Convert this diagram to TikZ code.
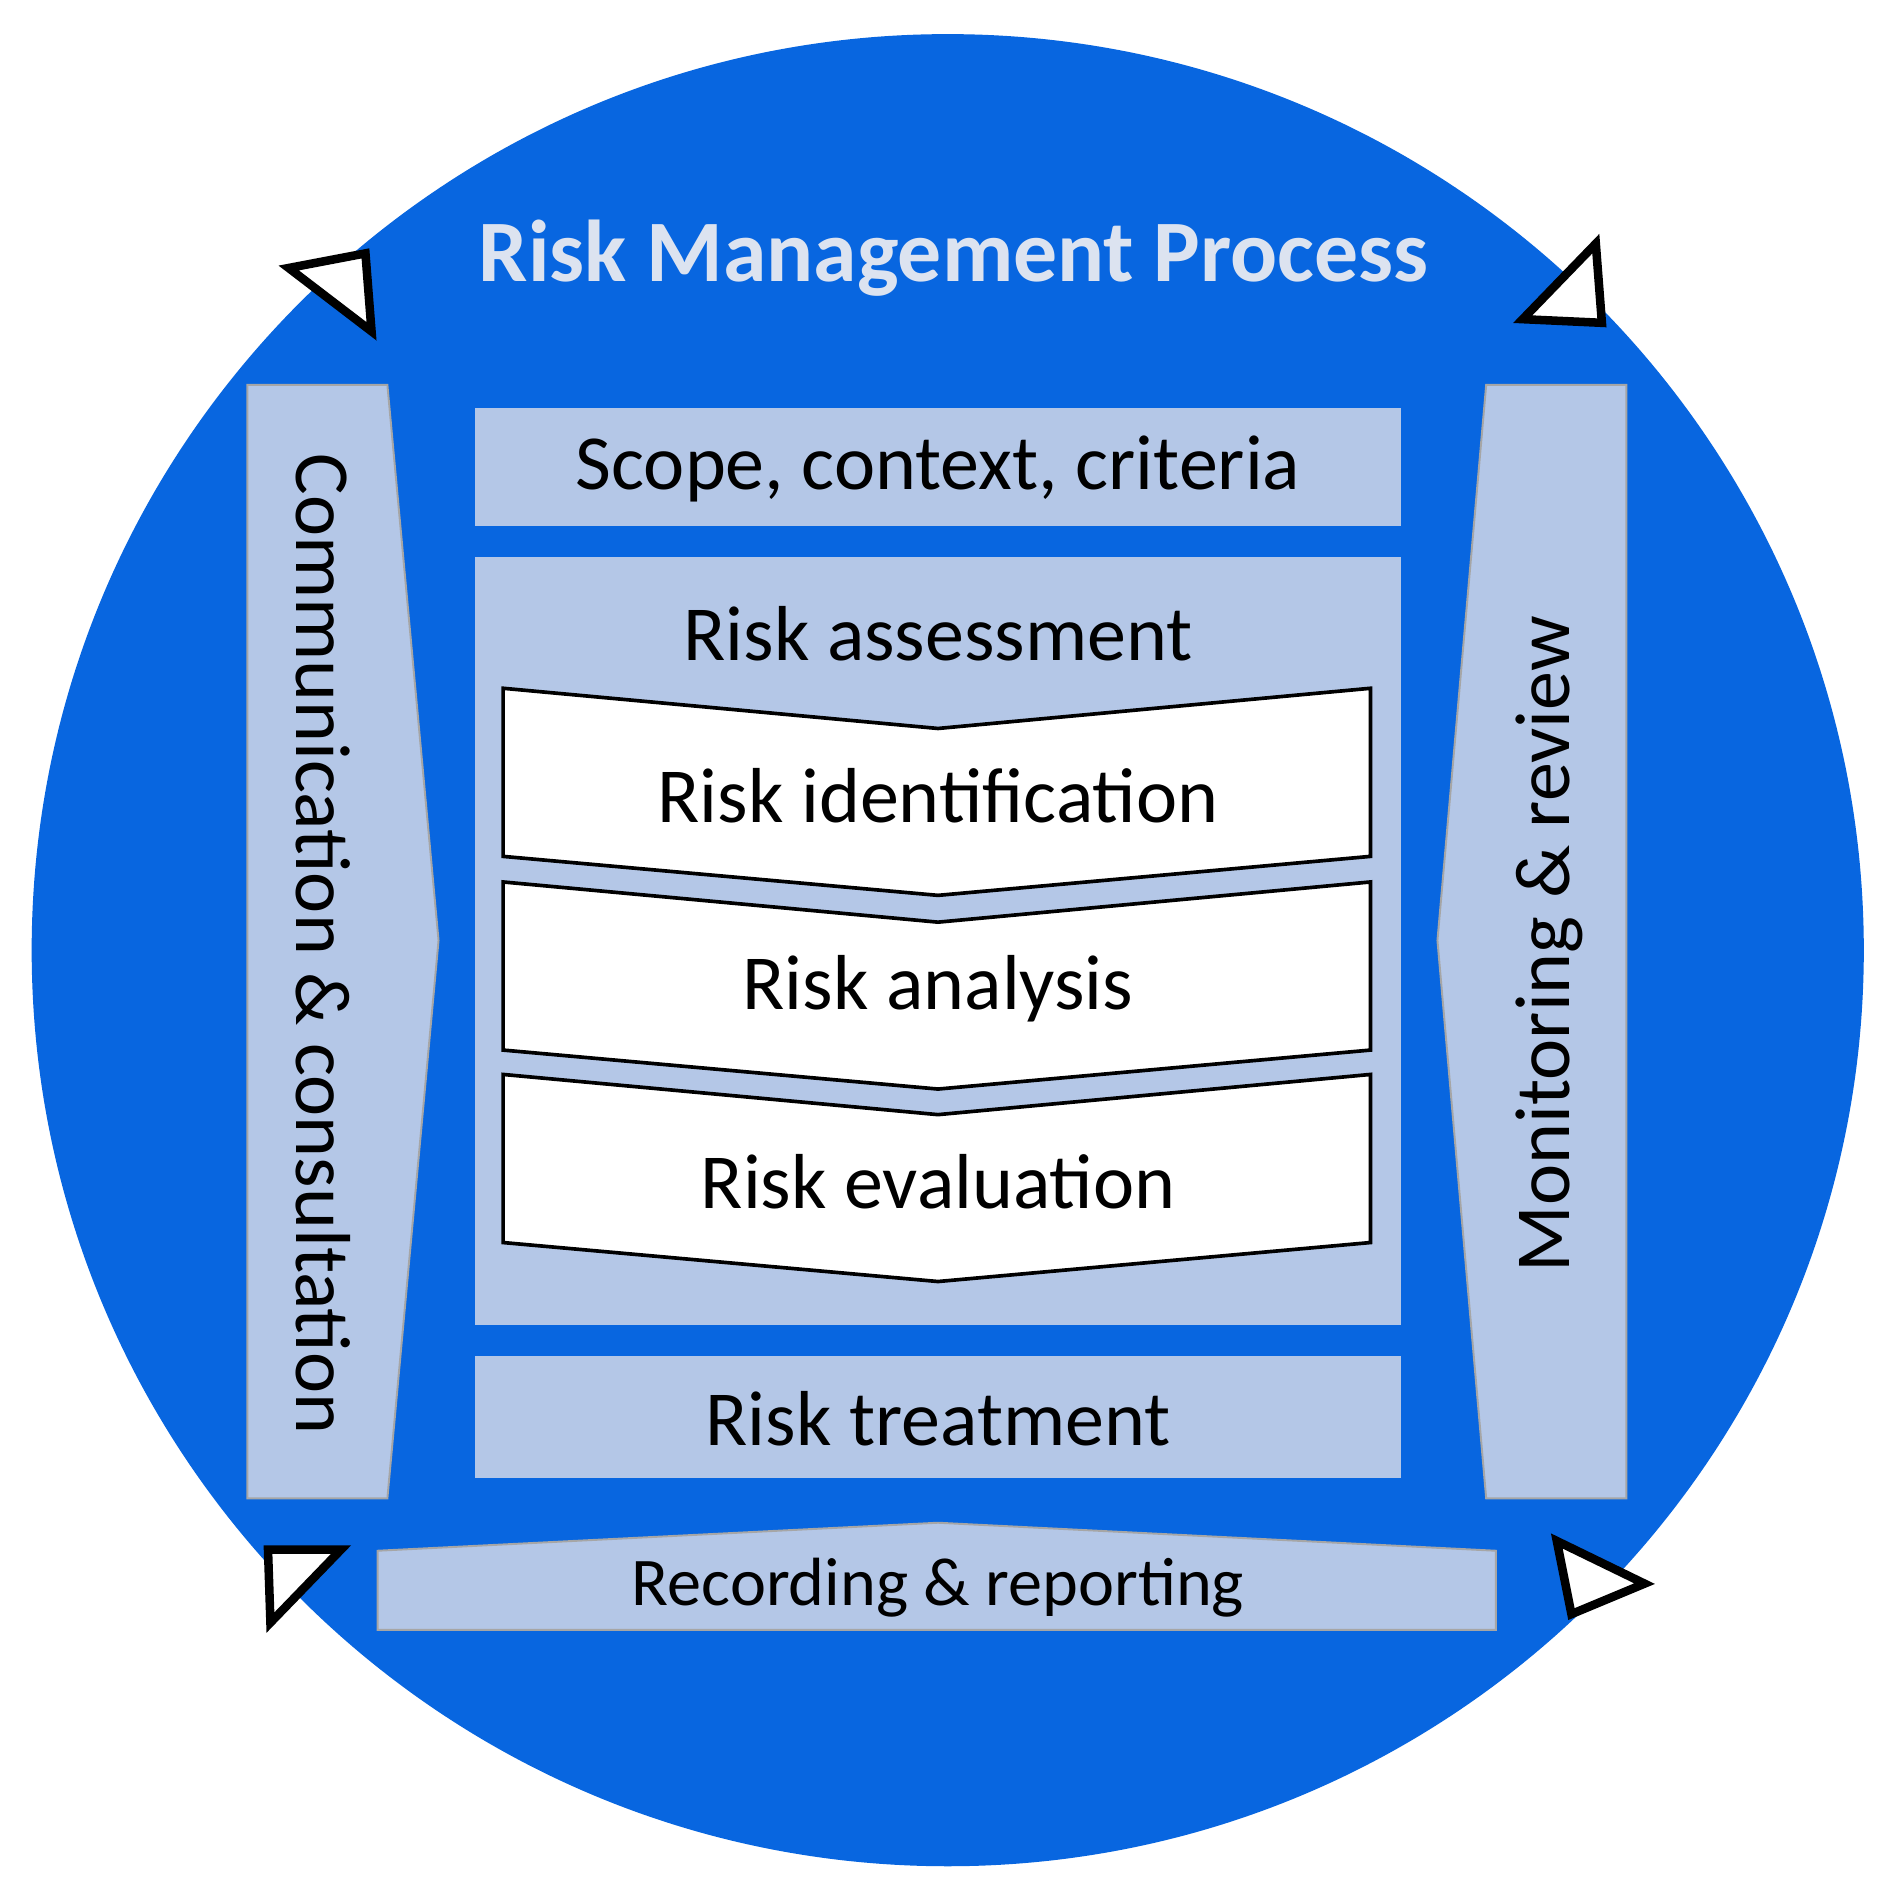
\documentclass[tikz,border=0pt]{standalone}
\usepackage{fontspec}
\setmainfont{Carlito}
\definecolor{bgblue}{HTML}{0866E0}
\definecolor{pale}{HTML}{B4C7E7}
\definecolor{ttl}{HTML}{DCE3F0}
\begin{document}
\begin{tikzpicture}[x=0.5pt,y=-0.5pt,
  panel/.style={fill=pale,draw=gray!70,line width=0.8pt},
  chev/.style={fill=white,draw=black,line width=1.5pt},
  tri/.style={fill=white,draw=black,line width=3.5pt,line join=miter},
  lbl/.style={font=\fontsize{32}{38}\selectfont,text=black}]
\useasboundingbox (0,0) rectangle (1560,1563);
\fill[white] (0,0) rectangle (1560,1563);
\fill[bgblue] (778,780) circle[radius=752];
\node[font=\bfseries\fontsize{36}{42}\selectfont,text=ttl] (title) at (783,212) {Risk Management Process};
% side bars
\draw[panel] (203,316)--(318,316)--(360,772)--(318,1230)--(203,1230)--cycle;
\node[lbl,rotate=-90] (comm) at (265,775) {Communication \& consultation};
\draw[panel] (1220,316)--(1335,316)--(1335,1230)--(1220,1230)--(1180,772)--cycle;
\node[lbl,rotate=90] (mon) at (1272,775) {Monitoring \& review};
% boxes
\fill[pale] (390,335) rectangle (1150,432);
\node[lbl] (scope) at (770,385) {Scope, context, criteria};
\fill[pale] (390,457) rectangle (1150,1088);
\node[lbl] (assess) at (770,520) {Risk assessment};
\foreach \t/\txt/\nm in {565/Risk identification/ident,724/Risk analysis/anal,882/Risk evaluation/eval}{
  \draw[chev] (413,\t)--(770,\t+33)--(1125,\t)--(1125,\t+138)--(770,\t+170)--(413,\t+138)--cycle;
  \node[lbl] (\nm) at (770,\t+88) {\txt};
}
\fill[pale] (390,1113) rectangle (1150,1213);
\node[lbl] (treat) at (770,1165) {Risk treatment};
\draw[panel] (310,1273)--(770,1250)--(1228,1273)--(1228,1338)--(310,1338)--cycle;
\node[font=\fontsize{28}{32}\selectfont] (rec) at (770,1303) {Recording \& reporting};
% arrowheads
\draw[tri] (237,220)--(300,208)--(305,272)--cycle;
\draw[tri] (1310,200)--(1315,265)--(1250,262)--cycle;
\draw[tri] (220,1272)--(280,1272)--(222,1332)--cycle;
\draw[tri] (1278,1265)--(1350,1300)--(1290,1325)--cycle;
\end{tikzpicture}
\end{document}
